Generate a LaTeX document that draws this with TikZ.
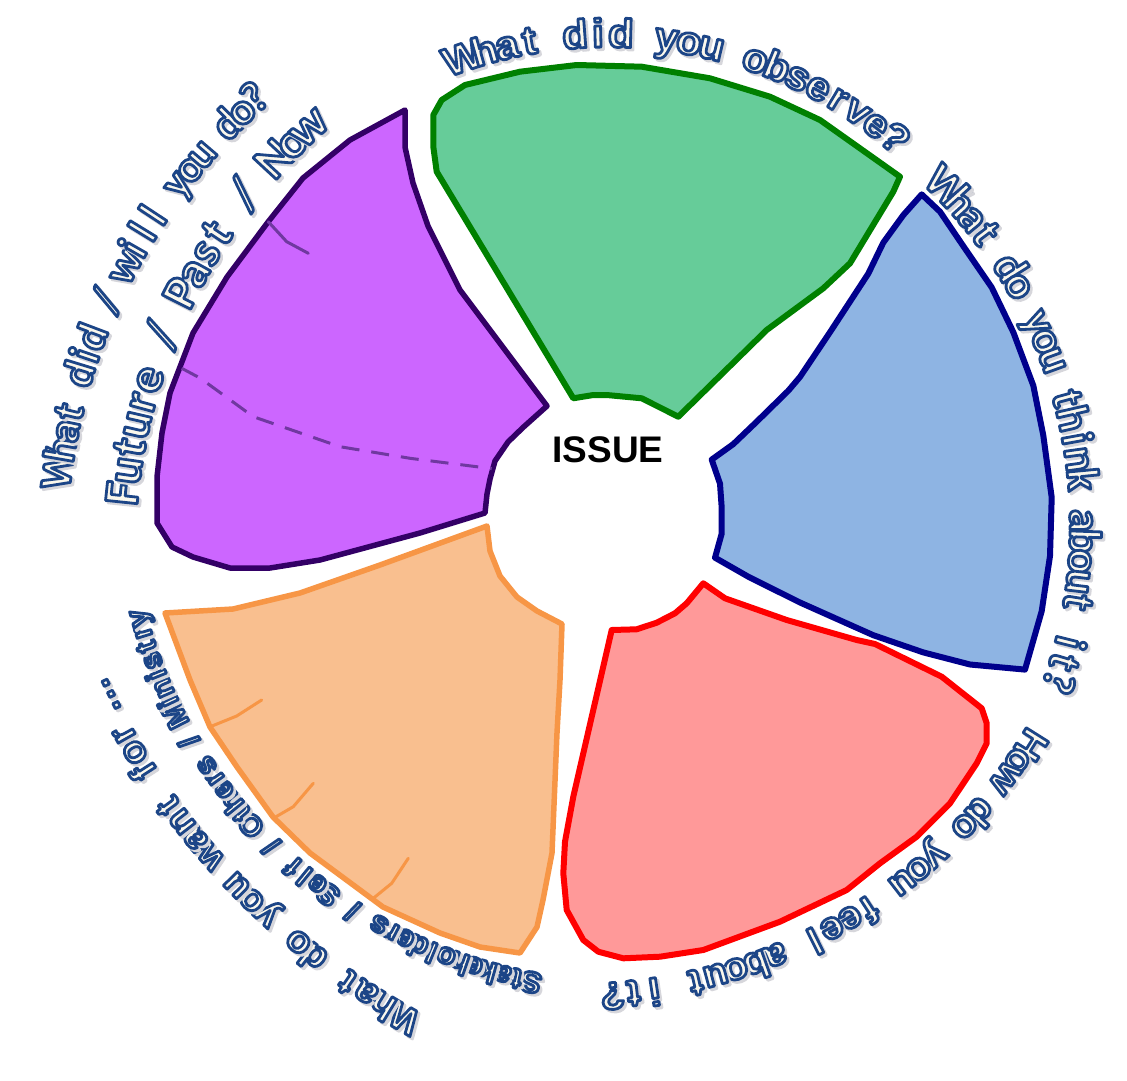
\documentclass[tikz,border=0pt]{standalone}
\usepackage{fontspec}
\setsansfont{Liberation Sans}
\newfontfamily\wideA{Liberation Sans}[FakeStretch=1.05]
\newfontfamily\calibfont{Carlito}[FakeStretch=1.03]
\definecolor{tfill}{RGB}{250,247,236}
\definecolor{tshadow}{RGB}{214,214,220}
\definecolor{grfill}{RGB}{102,204,153}
\definecolor{grline}{RGB}{0,128,0}
\definecolor{blfill}{RGB}{142,180,227}
\definecolor{blline}{RGB}{0,0,140}
\definecolor{rdfill}{RGB}{255,153,153}
\definecolor{rdline}{RGB}{255,0,0}
\definecolor{orfill}{RGB}{249,191,143}
\definecolor{orline}{RGB}{247,150,70}
\definecolor{pufill}{RGB}{204,102,255}
\definecolor{puline}{RGB}{51,0,102}
\definecolor{pumark}{RGB}{112,56,160}
% outlined glyphs: fill + stroke text rendering mode
\newcommand\outlineon{\special{pdf:literal direct 2 Tr 2.8 w 1 j 0.11 0.27 0.53 RG}}
\newcommand\shadowon{\special{pdf:literal direct 2 Tr 2.8 w 1 j 0.84 0.84 0.86 RG}}
\newlength\arcw
\newlength\arctot
\newcount\arcn
\tikzset{arcchar/.style={inner sep=0pt, outer sep=0pt, anchor=base, text=tfill, rotate=\arcrot}}
\makeatletter
\def\arc@end{\arc@end}
\def\arc@measure#1{\ifx#1\arc@end\else
  \settowidth\arcw{\arc@font #1}\global\advance\arctot\arcw
  \global\advance\arcn1
  \expandafter\arc@measure\fi}
\def\arc@place#1{\ifx#1\arc@end\else
  \settowidth\arcw{\arc@font #1}%
  \pgfmathsetmacro\arc@ang{\arc@a + (\arc@s + 0.5*\arcw)/\arc@R*57.29578}%
  \pgfmathsetmacro\arc@x{\arc@cx + \arc@R*cos(\arc@ang)}%
  \pgfmathsetmacro\arc@y{\arc@cy + \arc@R*sin(\arc@ang)}%
  \pgfmathsetmacro\arcrot{-\arc@ang-90}%
  \node[arcchar, text=tshadow] at ([xshift=2.5pt,yshift=-2.5pt]\arc@x,\arc@y) {\arc@font\shadowon#1};
  \node[arcchar] at (\arc@x,\arc@y) {\arc@font\outlineon#1};
  \pgfmathsetmacro\arc@s{\arc@s + \arcw + \arc@gap}%
  \expandafter\arc@place\fi}
% #1 font, #2 cx, #3 cy, #4 radius, #5 start angle, #6 end angle, #7 text (spaces as ~)
\newcommand\arctext[7]{%
  \def\arc@font{#1}\def\arc@cx{#2}\def\arc@cy{#3}\def\arc@R{#4}\def\arc@a{#5}%
  \global\arctot=0pt \global\arcn=0
  \arc@measure#7\arc@end
  \pgfmathsetmacro\arc@gap{((#6-#5)/57.29578*#4 - \arctot/1pt)/(\arcn-1)}%
  \def\arc@s{0}%
  \arc@place#7\arc@end}
\makeatother
\newcommand\fA[1]{\fontsize{#1}{#1}\selectfont\wideA\bfseries}
\newcommand\fC[1]{\fontsize{#1}{#1}\selectfont\calibfont\bfseries}
\begin{document}
\begin{tikzpicture}[x=1pt,y=-1pt,
  petal/.style={line width=6pt, line join=round},
  markline/.style={line width=3pt, line join=round, line cap=round}]
\useasboundingbox (0,0) rectangle (1127,1081);

% green petal
\draw[petal, fill=grfill, draw=grline] (441.7,100) -- (465,85) -- (520,71.7) -- (576.7,65) -- (641.7,66.7) -- (710,78.3) -- (770,96.7) -- (820,120) -- (900,176.7) -- (893.3,191.7) -- (850,263.3) -- (823.3,288.3) -- (766.7,330) -- (678.3,416.7) -- (641.7,398.3) -- (606.7,395) -- (593.3,395) -- (573.3,398.3) -- (436.7,171.7) -- (433.3,146.7) -- (433.3,115) -- cycle;

% blue petal
\draw[petal, fill=blfill, draw=blline] (921.7,194.4) -- (940,211.7) -- (963.3,246.1) -- (991.7,287.4) -- (1013.3,332.2) -- (1033.3,385.6) -- (1043.3,435.5) -- (1051.7,497.5) -- (1050,556) -- (1041.7,611.1) -- (1025,669.6) -- (970,664.5) -- (923.3,652.4) -- (873.3,635.2) -- (800,602.5) -- (748.3,576.7) -- (715,557.7) -- (721.7,533.6) -- (721.7,507.8) -- (720,483.7) -- (711.7,459.6) -- (733.3,444.1) -- (756.7,421.7) -- (788.3,390.7) -- (800,376.9) -- (830,332.2) -- (868.3,273.6) -- (883.3,242.6) -- (903.3,215.1) -- cycle;

% red petal
\draw[petal, fill=rdfill, draw=rdline] (703.3,583.3) -- (725,598.3) -- (786.7,620) -- (856.7,640) -- (875,644) -- (941.7,676.7) -- (981.7,708.3) -- (986.7,723.3) -- (986.7,743.3) -- (976.7,763.3) -- (950,803.3) -- (916.7,836.7) -- (880,863.3) -- (846.7,890) -- (780,921.7) -- (703.3,950) -- (660,956.7) -- (623.3,958.3) -- (598.3,951.7) -- (583.3,940) -- (566.7,910) -- (563.3,873.3) -- (565,841.7) -- (573.3,796.7) -- (611.7,630) -- (636.7,629.3) -- (656.7,622.7) -- (675,613.3) -- (686.7,603.3) -- cycle;

% orange petal
\draw[petal, line width=5.5pt, fill=orfill, draw=orline] (165,613) -- (233,609) -- (300,593) -- (380,565) -- (487,526) -- (490,551) -- (500,576) -- (517,597) -- (537,611) -- (562,624) -- (560,680) -- (557,733) -- (552,853) -- (543,900) -- (537,927) -- (520,953) -- (480,947) -- (440,933) -- (383,907) -- (310,853) -- (273,817) -- (237,767) -- (210,727) -- (190,680) -- cycle;
\draw[markline, draw=orline] (212,726) -- (236.7,716) -- (261.7,700);
\draw[markline, draw=orline] (273.3,818.3) -- (293.3,806.7) -- (313.3,783.3);
\draw[markline, draw=orline] (373.3,898.3) -- (391.7,883.3) -- (408.3,858.3);

% purple petal
\draw[petal, line width=5.5pt, fill=pufill, draw=puline] (405,110) -- (405,147) -- (413,183) -- (428,226) -- (460,290) -- (547,406) -- (523,427.5) -- (508,442) -- (495,461) -- (490,479) -- (487,494) -- (485,513) -- (420,533) -- (320,560) -- (270,568) -- (230,568) -- (193,557) -- (172,547) -- (157,523) -- (157,477) -- (162,433) -- (170,393) -- (193,333) -- (227,277) -- (268,222) -- (303,178) -- (350,140) -- cycle;
\draw[markline, draw=pumark] (268.3,221.7) -- (286.7,241.7) -- (308.3,253.3);
\draw[markline, draw=pumark, line cap=butt, dash pattern=on 18pt off 12pt] (181.7,368.3) -- (200,378) -- (253.3,416.7) -- (340,446.7) -- (410,458.3) -- (491.7,468.6);

% centre
\node[font=\fontsize{37}{40}\selectfont\sffamily\bfseries] (issue) at (608,450) {ISSUE};

% curved labels
\arctext{\fA{40}}{608}{480}{433}{-109}{-50}{What~did~you~observe?}
\arctext{\fC{45}}{602}{525}{468}{-44.5}{19}{What~do~you~think~about~it?}
\arctext{\fA{38.5}}{574}{457}{527}{32.2}{85.9}{How~do~you~feel~about~it?}
\arctext{\fA{37}}{770}{371}{731}{119.8}{153.9}{What~do~you~want~for~…}
\arctext{\fA{29.5}}{626}{484}{497}{100.8}{164.6}{Stakeholders~/~Self~/~Others~/~Ministry}
\arctext{\fC{44}}{670}{555}{604}{188}{227.8}{What~did~/~will~you~do?}
\arctext{\fC{49}}{701}{554}{566}{186}{227.4}{Future~/~Past~/~Now}
\end{tikzpicture}
\end{document}
